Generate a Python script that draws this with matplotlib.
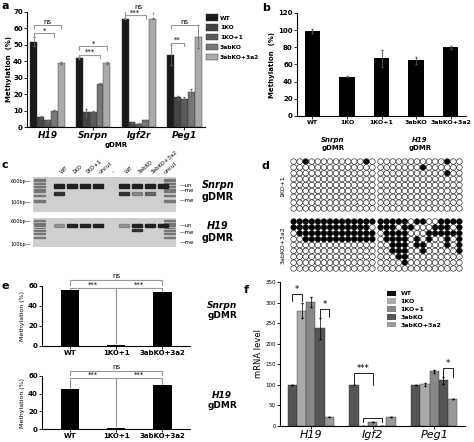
import matplotlib
matplotlib.use("Agg")
import matplotlib.pyplot as plt
import numpy as np
from matplotlib.patches import Rectangle, Circle

W, H = 474, 442
fig = plt.figure(figsize=(W/100, H/100), dpi=100)
plt.rcParams['font.family'] = ['DejaVu Sans']
plt.rcParams['font.size'] = 5

def ax_px(x0, y0, x1, y1):
    return fig.add_axes([x0/W, 1-y1/H, (x1-x0)/W, (y1-y0)/H])

groups_a = ["H19", "Snrpn", "Igf2r", "Peg1"]
series = ["WT", "1KO", "1KO+1", "3abKO", "3abKO+3a2"]
vals_a = {"WT": [52, 42, 66, 44], "1KO": [6, 9, 3, 18], "1KO+1": [4, 9, 2, 17],
          "3abKO": [10, 26, 4, 21], "3abKO+3a2": [39, 39, 66, 55]}
err_a = {"WT": [3, 0.5, 0.5, 6], "1KO": [0.5, 2, 0.3, 1], "1KO+1": [0.5, 0.5, 0.3, 1],
         "3abKO": [0.5, 0.5, 0.5, 2], "3abKO+3a2": [0.5, 0.5, 0.5, 7]}
cols_a = ["#1a1a1a", "#444444", "#5a5a5a", "#777777", "#aaaaaa"]

vals_b = [99, 46, 67, 65, 80]
err_b = [2, 1, 10, 4, 2]

e_cats = ["WT", "1KO+1", "3abKO+3a2"]
e_snrpn = [56, 1, 54]
e_h19 = [45, 1, 50]

groups_f = ["H19", "Igf2", "Peg1"]
vals_f = {"WT": [100, 100, 100], "1KO": [280, 0, 101], "1KO+1": [302, 10, 133],
          "3abKO": [237, 0, 111], "3abKO+3a2": [22, 22, 66]}
err_f = {"WT": [0, 0, 0], "1KO": [18, 0, 3], "1KO+1": [12, 0, 3],
         "3abKO": [25, 0, 8], "3abKO+3a2": [0, 0, 0]}
cols_f = ["#555555", "#aaaaaa", "#888888", "#555555", "#999999"]
leg_f = ["#111111", "#aaaaaa", "#888888", "#555555", "#999999"]

def style(ax):
    for s in ["top", "right"]:
        ax.spines[s].set_visible(False)
    ax.tick_params(length=2, width=0.6, pad=1, labelsize=5)
    for s in ["left", "bottom"]:
        ax.spines[s].set_linewidth(0.8)

def bracket(ax, x1, x2, y, h, txt):
    ax.plot([x1, x1, x2, x2], [y-h, y, y, y-h], color="#999999", lw=0.8)
    ax.text((x1+x2)/2, y, txt, ha="center", va="bottom", fontsize=5)

# ---- a ----
ax = ax_px(27, 12, 205, 127)
style(ax)
bw = 0.15
for i, s in enumerate(series):
    x = np.arange(4) + (i-2)*bw
    ax.bar(x, vals_a[s], bw, color=cols_a[i], yerr=err_a[s], capsize=1,
           error_kw=dict(lw=0.5, ecolor="#666666"), label=s, edgecolor="#333333", linewidth=0.3)
ax.set_ylim(0, 70)
ax.set_xlim(-0.45, 3.45)
ax.set_yticks(range(0, 71, 10))
ax.set_xticks(range(4))
ax.set_xticklabels(groups_a, fontstyle="italic", fontweight="bold", fontsize=6.5)
ax.set_xlabel("gDMR", fontsize=5, fontweight="bold", labelpad=1)
ax.set_ylabel("Methylation  (%)", fontsize=5, fontweight="bold", labelpad=1)
for t in ax.get_yticklabels():
    t.set_fontweight("bold")
bracket(ax, -0.3, 0.3, 62, 2, "ns")
bracket(ax, -0.3, 0.15, 57, 2, "*")
bracket(ax, 0.7, 1.3, 49, 2, "*")
bracket(ax, 0.7, 1.15, 44, 2, "***")
bracket(ax, 1.7, 2.3, 71, 2, "ns")
bracket(ax, 1.7, 2.15, 68, 2, "***")
bracket(ax, 2.7, 3.3, 62, 2, "ns")
bracket(ax, 2.7, 3.0, 51, 2, "**")
leg = ax.legend(loc="upper left", bbox_to_anchor=(0.99, 1.0), fontsize=4.3, frameon=False,
          handlelength=2.0, handleheight=1.3, handletextpad=0.4, labelspacing=0.55, borderaxespad=0)
for t in leg.get_texts():
    t.set_fontweight("bold")
fig.text(2/W, 1-6/H, "a", fontsize=8, fontweight="bold", va="center")

# ---- b ----
ax = ax_px(297, 13, 466, 116)
style(ax)
ax.bar(range(5), vals_b, 0.45, color="black", yerr=err_b, capsize=1,
       error_kw=dict(lw=0.6, ecolor="#555555"))
ax.set_ylim(0, 120)
ax.set_yticks(range(0, 121, 20))
ax.set_xticks(range(5))
ax.set_xticklabels(series, fontsize=4.5, fontweight="bold")
ax.set_ylabel("Methylation  (%)", fontsize=5, fontweight="bold", labelpad=2)
for t in ax.get_yticklabels():
    t.set_fontweight("bold")
fig.text(262/W, 1-8/H, "b", fontsize=8, fontweight="bold", va="center")

# ---- c (gel) ----
fig.text(2/W, 1-165/H, "c", fontsize=8, fontweight="bold", va="center")
lanes = ["WT", "1KO", "1KO+1", "uncut", "\u2013", "WT", "3abKO", "3abKO+3a2", "uncut"]
for gy0, gy1, bands, gene in [(177, 212, "snrpn", "Snrpn"), (218, 247, "h19", "H19")]:
    g = ax_px(33, gy0, 176, gy1)
    g.set_xlim(0, 11); g.set_ylim(0, 1)
    g.set_facecolor("#cfcfcf")
    g.set_xticks([]); g.set_yticks([])
    for s in g.spines.values():
        s.set_visible(False)
    for lx in [0.5, 10.5]:
        for yy in [0.9, 0.8, 0.72, 0.64, 0.56, 0.45, 0.3]:
            g.add_patch(Rectangle((lx-0.4, yy), 0.8, 0.03, color="#777777"))
    if bands == "snrpn":
        un = [1, 1, 1, 1, 0, 1, 1, 1, 1]
        me = [1, 0, 0, 0, 0, 1, 0.4, 0.6, 0]
        for i in range(9):
            if un[i]:
                g.add_patch(Rectangle((i+1.6, 0.7), 0.8, 0.1, color="#202020"))
            if me[i]:
                g.add_patch(Rectangle((i+1.6, 0.5), 0.8, 0.07, color="#303030", alpha=me[i]))
    else:
        un = [0.3, 1, 1, 1, 0, 0.3, 1, 1, 1]
        for i in range(9):
            if un[i]:
                g.add_patch(Rectangle((i+1.6, 0.68), 0.8, 0.1, color="#202020", alpha=un[i]))
        g.add_patch(Rectangle((7.6, 0.55), 0.8, 0.08, color="#303030"))
    fig.text(31/W, 1-(gy0+4)/H, "600bp\u2014", fontsize=3.5, ha="right", va="center")
    fig.text(31/W, 1-(gy0+26)/H, "100bp\u2014", fontsize=3.5, ha="right", va="center")
    fig.text(180/W, 1-(gy0+8)/H, "\u2014un", fontsize=4, va="center")
    fig.text(180/W, 1-(gy0+14)/H, "\u2014me", fontsize=4, va="center")
    fig.text(180/W, 1-(gy0+24)/H, "\u2014me", fontsize=4, va="center")
    fig.text(218/W, 1-(gy0+8)/H, gene, fontsize=7, fontweight="bold", fontstyle="italic", ha="center", va="center")
    fig.text(218/W, 1-(gy0+20)/H, "gDMR", fontsize=7, fontweight="bold", ha="center", va="center")
for i, lab in enumerate(lanes):
    fig.text((33 + (i+2)*143/11)/W, 1-175/H, lab, fontsize=4, rotation=40, ha="left", va="bottom")

# ---- d (circles) ----
fig.text(262/W, 1-166/H, "d", fontsize=8, fontweight="bold", va="center")
fig.text(333/W, 1-142/H, "Snrpn", fontsize=5, fontweight="bold", fontstyle="italic", ha="center")
fig.text(333/W, 1-150/H, "gDMR", fontsize=5, fontweight="bold", ha="center")
fig.text(420/W, 1-142/H, "H19", fontsize=5, fontweight="bold", fontstyle="italic", ha="center")
fig.text(420/W, 1-150/H, "gDMR", fontsize=5, fontweight="bold", ha="center")
pat_s1 = ["00100000000010", "00000000000000", "00000000000000", "00000000000000",
          "00000000000000", "00000000000000", "00000000000000", "00000000000000", "00000000000000"]
pat_h1 = ["00000000000100", "00000001000000", "00000000000100", "00000000000000",
          "00000000000000", "00000000000000", "00000000000000", "00000000000000", "00000000000000"]
pat_s2 = ["11111111111111", "11111111111110", "01111111111111", "00111111111111",
          "00000000000000", "00000000000000", "00000000000000", "00000000000000", "00000000000000"]
pat_h2 = ["11111011001111", "11101100011101", "01111000111111", "01111010100101",
          "00111011000101", "00111001000001", "00011000000000", "00001000000000", "00000000000000"]
for (x0, y0, pat) in [(290, 158, pat_s1), (377, 158, pat_h1), (290, 218, pat_s2), (377, 218, pat_h2)]:
    a2 = ax_px(x0, y0, x0+86, y0+54)
    a2.set_xlim(-0.6, 13.6); a2.set_ylim(8.6, -0.6); a2.axis("off")
    for r, row in enumerate(pat):
        for c, ch in enumerate(row):
            a2.add_patch(Circle((c, r), 0.47, facecolor="black" if ch == "1" else "white",
                                edgecolor="black", lw=0.4))
fig.text(283/W, 1-186/H, "1KO+1", fontsize=4.5, rotation=90, ha="center", va="center")
fig.text(283/W, 1-245/H, "3abKO+3a2", fontsize=4.5, rotation=90, ha="center", va="center")

# ---- e ----
fig.text(2/W, 1-286/H, "e", fontsize=8, fontweight="bold", va="center")
for (y0, y1, vals, gene) in [(286, 346, e_snrpn, "Snrpn"), (376, 429, e_h19, "H19")]:
    ax = ax_px(42, y0, 190, y1)
    style(ax)
    ax.bar(range(3), vals, 0.4, color="black")
    ax.set_ylim(0, 60)
    ax.set_xlim(-0.6, 2.6)
    ax.set_yticks([0, 20, 40, 60])
    ax.set_xticks(range(3))
    ax.set_xticklabels(e_cats, fontsize=5, fontweight="bold")
    ax.set_ylabel("Methylation (%)", fontsize=4.5, labelpad=2)
    for t in ax.get_yticklabels():
        t.set_fontweight("bold")
    ax.plot([0, 0, 1, 1], [vals[0]+1, 58, 58, 3], color="#999999", lw=0.8, clip_on=False)
    ax.plot([1, 1, 2, 2], [3, 58, 58, vals[2]+1], color="#999999", lw=0.8, clip_on=False)
    ax.text(0.5, 58, "***", ha="center", va="bottom", fontsize=5)
    ax.text(1.5, 58, "***", ha="center", va="bottom", fontsize=5)
    ax.plot([0, 0, 2, 2], [61, 66, 66, 61], color="#999999", lw=0.8, clip_on=False)
    ax.text(1, 67, "ns", ha="center", va="bottom", fontsize=5)
    fig.text(222/W, 1-(y0+22)/H, gene, fontsize=6.5, fontweight="bold", fontstyle="italic", ha="center")
    fig.text(222/W, 1-(y0+32)/H, "gDMR", fontsize=6.5, fontweight="bold", ha="center")

# ---- f ----
fig.text(244/W, 1-290/H, "f", fontsize=8, fontweight="bold", va="center")
ax = ax_px(280, 282, 465, 426)
style(ax)
bw = 0.15
for i, s in enumerate(series):
    x = np.arange(3) + (i-2)*bw
    ax.bar(x, vals_f[s], bw, color=cols_f[i], edgecolor="#333333", linewidth=0.3,
           yerr=err_f[s], capsize=1, error_kw=dict(lw=0.5))
for i, s in enumerate(series):
    ax.bar([0], [0], color=leg_f[i], label=s)
ax.set_ylim(0, 350)
ax.set_xlim(-0.5, 2.5)
ax.set_yticks(range(0, 351, 50))
ax.set_xticks(range(3))
ax.set_xticklabels(groups_f, fontstyle="italic", fontsize=8)
ax.set_ylabel("mRNA level", fontsize=6, labelpad=2)
ax.tick_params(axis="y", labelsize=4)
def br2(x1, x2, y, h, txt):
    ax.plot([x1, x1, x2, x2], [y-h, y, y, y-h], color="black", lw=0.6)
    ax.text((x1+x2)/2, y, txt, ha="center", va="bottom", fontsize=6)
br2(-0.3, -0.15, 320, 15, "*")
br2(0.15, 0.3, 285, 20, "*")
br2(0.7, 1.0, 130, 30, "***")
br2(0.85, 1.15, 20, 10, "")
br2(2.15, 2.3, 140, 20, "*")
leg = ax.legend(loc="upper left", bbox_to_anchor=(0.55, 0.98), fontsize=4.5, frameon=False,
          handlelength=1.3, handleheight=1, labelspacing=0.3)
for t in leg.get_texts():
    t.set_fontweight("bold")

fig.savefig("out.png", dpi=100)
